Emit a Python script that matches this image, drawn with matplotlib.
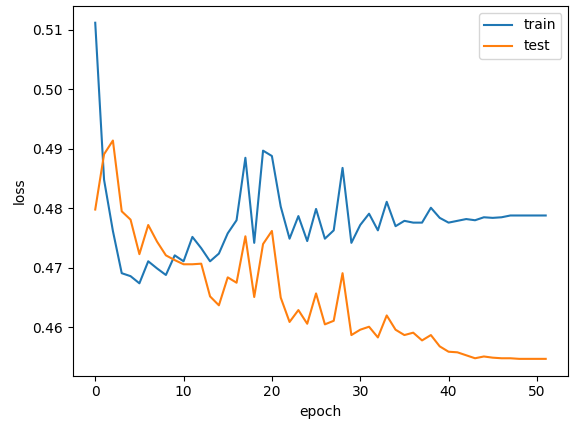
import matplotlib
matplotlib.use("Agg")
import matplotlib.pyplot as plt

epochs = list(range(52))
train = [0.5112, 0.4848, 0.4762, 0.4691, 0.4686, 0.4674, 0.4711, 0.4699, 0.4688, 0.4721,
         0.4711, 0.4752, 0.4733, 0.4711, 0.4724, 0.4758, 0.4780, 0.4885, 0.4742, 0.4897,
         0.4888, 0.4803, 0.4749, 0.4787, 0.4745, 0.4799, 0.4749, 0.4763, 0.4868, 0.4742,
         0.4772, 0.4791, 0.4763, 0.4811, 0.4770, 0.4779, 0.4776, 0.4776, 0.4801, 0.4784,
         0.4776, 0.4779, 0.4782, 0.4780, 0.4785, 0.4784, 0.4785, 0.4788, 0.4788, 0.4788,
         0.4788, 0.4788]
test = [0.4798, 0.4891, 0.4914, 0.4795, 0.4781, 0.4723, 0.4772, 0.4744, 0.4721, 0.4713,
        0.4706, 0.4706, 0.4707, 0.4652, 0.4637, 0.4684, 0.4675, 0.4753, 0.4651, 0.4740,
        0.4762, 0.4650, 0.4609, 0.4629, 0.4606, 0.4657, 0.4605, 0.4611, 0.4691, 0.4587,
        0.4596, 0.4601, 0.4583, 0.4620, 0.4596, 0.4587, 0.4591, 0.4578, 0.4587, 0.4568,
        0.4559, 0.4558, 0.4553, 0.4548, 0.4551, 0.4549, 0.4548, 0.4548, 0.4547, 0.4547,
        0.4547, 0.4547]

fig = plt.figure(figsize=(5.84, 4.24), dpi=100)
ax = fig.add_axes([0.1245, 0.114, 0.973 - 0.1245, 0.986 - 0.114])
ax.plot(epochs, train, label="train")
ax.plot(epochs, test, label="test")
ax.set_xlabel("epoch")
ax.set_ylabel("loss")
ax.legend(loc="upper right")
fig.savefig("out.png", dpi=100)
